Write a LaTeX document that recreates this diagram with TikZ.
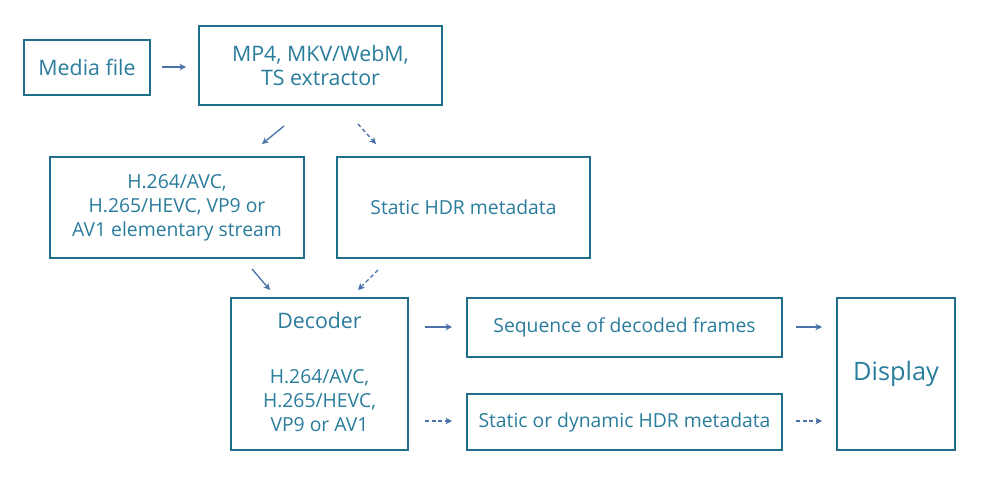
\documentclass[tikz,border=0pt]{standalone}
\usepackage{fontspec}
\setmainfont{Open Sans}
\usetikzlibrary{arrows.meta}
\definecolor{bx}{HTML}{1F6E8C}
\definecolor{tx}{HTML}{2A7C9C}
\definecolor{ar}{HTML}{4A72A8}
\begin{document}
\begin{tikzpicture}[x=0.75pt,y=-0.75pt,
 box/.style={draw=bx,line width=1.3pt},
 ar/.style={draw=ar,line width=1pt,-{Stealth[length=5pt,width=5pt]}},
 da/.style={ar,dash pattern=on 3pt off 2pt}]
\useasboundingbox (0,0) rectangle (997,499);
\newcommand{\bx}[6]{\draw[box] (#2,#3) rectangle (#4,#5) node[midway,text=tx,align=center,font=\fontsize{14.5}{18}\selectfont] (#1) {#6};}
\bx{mf}{24}{40}{150}{95}{\fontsize{16}{20}\selectfont Media file}
\bx{mp}{199}{26}{442}{105}{\fontsize{16}{20}\selectfont MP4, MKV/WebM,\\\fontsize{16}{20}\selectfont TS extractor}
\bx{es}{50}{157}{304}{258}{H.264/AVC,\\H.265/HEVC, VP9 or\\AV1 elementary stream}
\bx{sh}{337}{157}{590}{258}{Static HDR metadata}
\draw[box] (231,298) rectangle (408,450);
\node[text=tx,font=\fontsize{16}{20}\selectfont] (dec) at (319.5,321) {Decoder};
\node[text=tx,align=center,font=\fontsize{14.5}{18}\selectfont] (decs) at (319.5,401) {H.264/AVC,\\H.265/HEVC,\\VP9 or AV1};
\bx{sq}{467}{298}{782}{357}{Sequence of decoded frames}
\bx{sd}{467}{394}{782}{450}{Static or dynamic HDR metadata}
\bx{di}{837}{298}{955}{450}{\fontsize{19}{23}\selectfont Display}
\coordinate (a1) at (162,67); \coordinate (b1) at (186,67);
\draw[ar] (a1) -- (b1);
\coordinate (a2) at (284,126); \coordinate (b2) at (262,144);
\draw[ar] (a2) -- (b2);
\coordinate (a3) at (358,124); \coordinate (b3) at (376,144);
\draw[da] (a3) -- (b3);
\coordinate (a4) at (252,269); \coordinate (b4) at (270,290);
\draw[ar] (a4) -- (b4);
\coordinate (a5) at (378,270); \coordinate (b5) at (358,290);
\draw[da] (a5) -- (b5);
\coordinate (a6) at (425,327); \coordinate (b6) at (452,327);
\draw[ar] (a6) -- (b6);
\coordinate (a7) at (425,421); \coordinate (b7) at (452,421);
\draw[da] (a7) -- (b7);
\coordinate (a8) at (796,327); \coordinate (b8) at (822,327);
\draw[ar] (a8) -- (b8);
\coordinate (a9) at (796,421); \coordinate (b9) at (822,421);
\draw[da] (a9) -- (b9);
\end{tikzpicture}
\end{document}
